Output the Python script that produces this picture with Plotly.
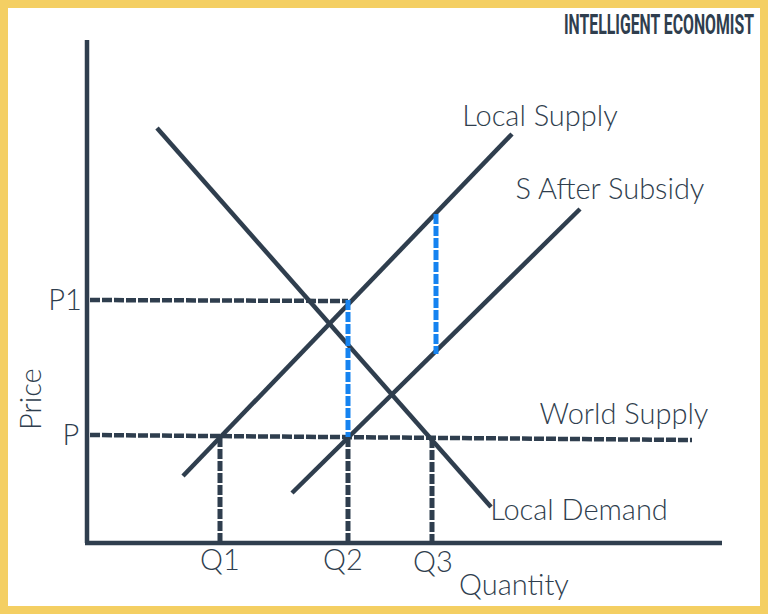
import plotly.graph_objects as go

NAVY = "#2f3e4e"
BLUE = "#1683f0"
YELLOW = "#f4cf63"

# values, in picture pixels
axis_x = [87, 87]
axis_y = [40, 543]
floor_x = [85, 722]
floor_y = [543, 543]

demand_x = [157, 491]
demand_y = [128, 507]
supply_x = [183, 512]
supply_y = [476, 134]
subsidy_x = [292, 580]
subsidy_y = [493, 209]

world_x = [90, 692]
world_y = [435, 440]
p1_x = [90, 348]
p1_y = [300, 301]

q_x = [220, 348, 432]
q_top = [437, 437, 438]
q_bottom = [543, 543, 543]

gap_x = [[348, 348], [436, 436]]
gap_y = [[300, 437], [214, 354]]

labels = ["Local Supply", "S After Subsidy", "World Supply", "Local Demand",
          "P1", "P", "Q1", "Q2", "Q3", "Quantity"]
label_x = [540, 610, 624, 579, 65, 71, 220, 343, 433, 514]
label_y = [119, 192, 417, 513, 303, 438, 563, 563, 565, 588]


def add_line(fig, xs, ys, color=NAVY, width=4.5, dash="solid"):
    fig.add_trace(go.Scatter(x=xs, y=ys, mode="lines", hoverinfo="skip",
                             line=dict(color=color, width=width, dash=dash)))


fig = go.Figure()
add_line(fig, axis_x, axis_y)
add_line(fig, floor_x, floor_y)
add_line(fig, demand_x, demand_y)
add_line(fig, supply_x, supply_y)
add_line(fig, subsidy_x, subsidy_y)
add_line(fig, world_x, world_y, dash="10px,2px")
add_line(fig, p1_x, p1_y, dash="10px,2px")
for i in range(len(q_x)):
    add_line(fig, [q_x[i], q_x[i]], [q_top[i], q_bottom[i]], width=5, dash="10px,2px")
for xs, ys in zip(gap_x, gap_y):
    add_line(fig, xs, ys, color=BLUE, width=5, dash="10px,2px")

fig.add_trace(go.Scatter(x=label_x, y=label_y, mode="text", text=labels, hoverinfo="skip",
                         textposition="middle center",
                         textfont=dict(family="Lato", size=29, color=NAVY, weight=300)))

fig.add_trace(go.Scatter(x=[659], y=[30], mode="text", text=["INTELLIGENT ECONOMIST"], hoverinfo="skip",
                         textposition="middle center", cliponaxis=False,
                         textfont=dict(family="Roboto", size=16, color=NAVY, weight=700)))

fig.add_annotation(x=29, y=399, text="Price", textangle=-90, showarrow=False,
                   font=dict(family="Lato", size=29, color=NAVY, weight=300))

fig.update_layout(
    width=768, height=614, showlegend=False,
    margin=dict(l=8, r=8, t=8, b=8),
    paper_bgcolor=YELLOW, plot_bgcolor="white",
    xaxis=dict(range=[8, 760], visible=False),
    yaxis=dict(range=[606, 8], visible=False),
)

# no page margin, and stretch the logo text up so it looks condensed
post = """
document.body.style.margin = '0';
document.querySelectorAll('.textpoint text').forEach(function (t) {
  if (t.textContent.indexOf('INTELLIGENT') === 0) {
    var y = parseFloat(t.getAttribute('y')) || 0;
    var s = 1.75;
    t.setAttribute('textLength', '190');
    t.setAttribute('lengthAdjust', 'spacingAndGlyphs');
    t.setAttribute('transform', 'translate(0,' + (y * (1 - s)) + ') scale(1,' + s + ')');
  }
});
"""
fig.write_html("out.html", post_script=post, config=dict(displayModeBar=False))
